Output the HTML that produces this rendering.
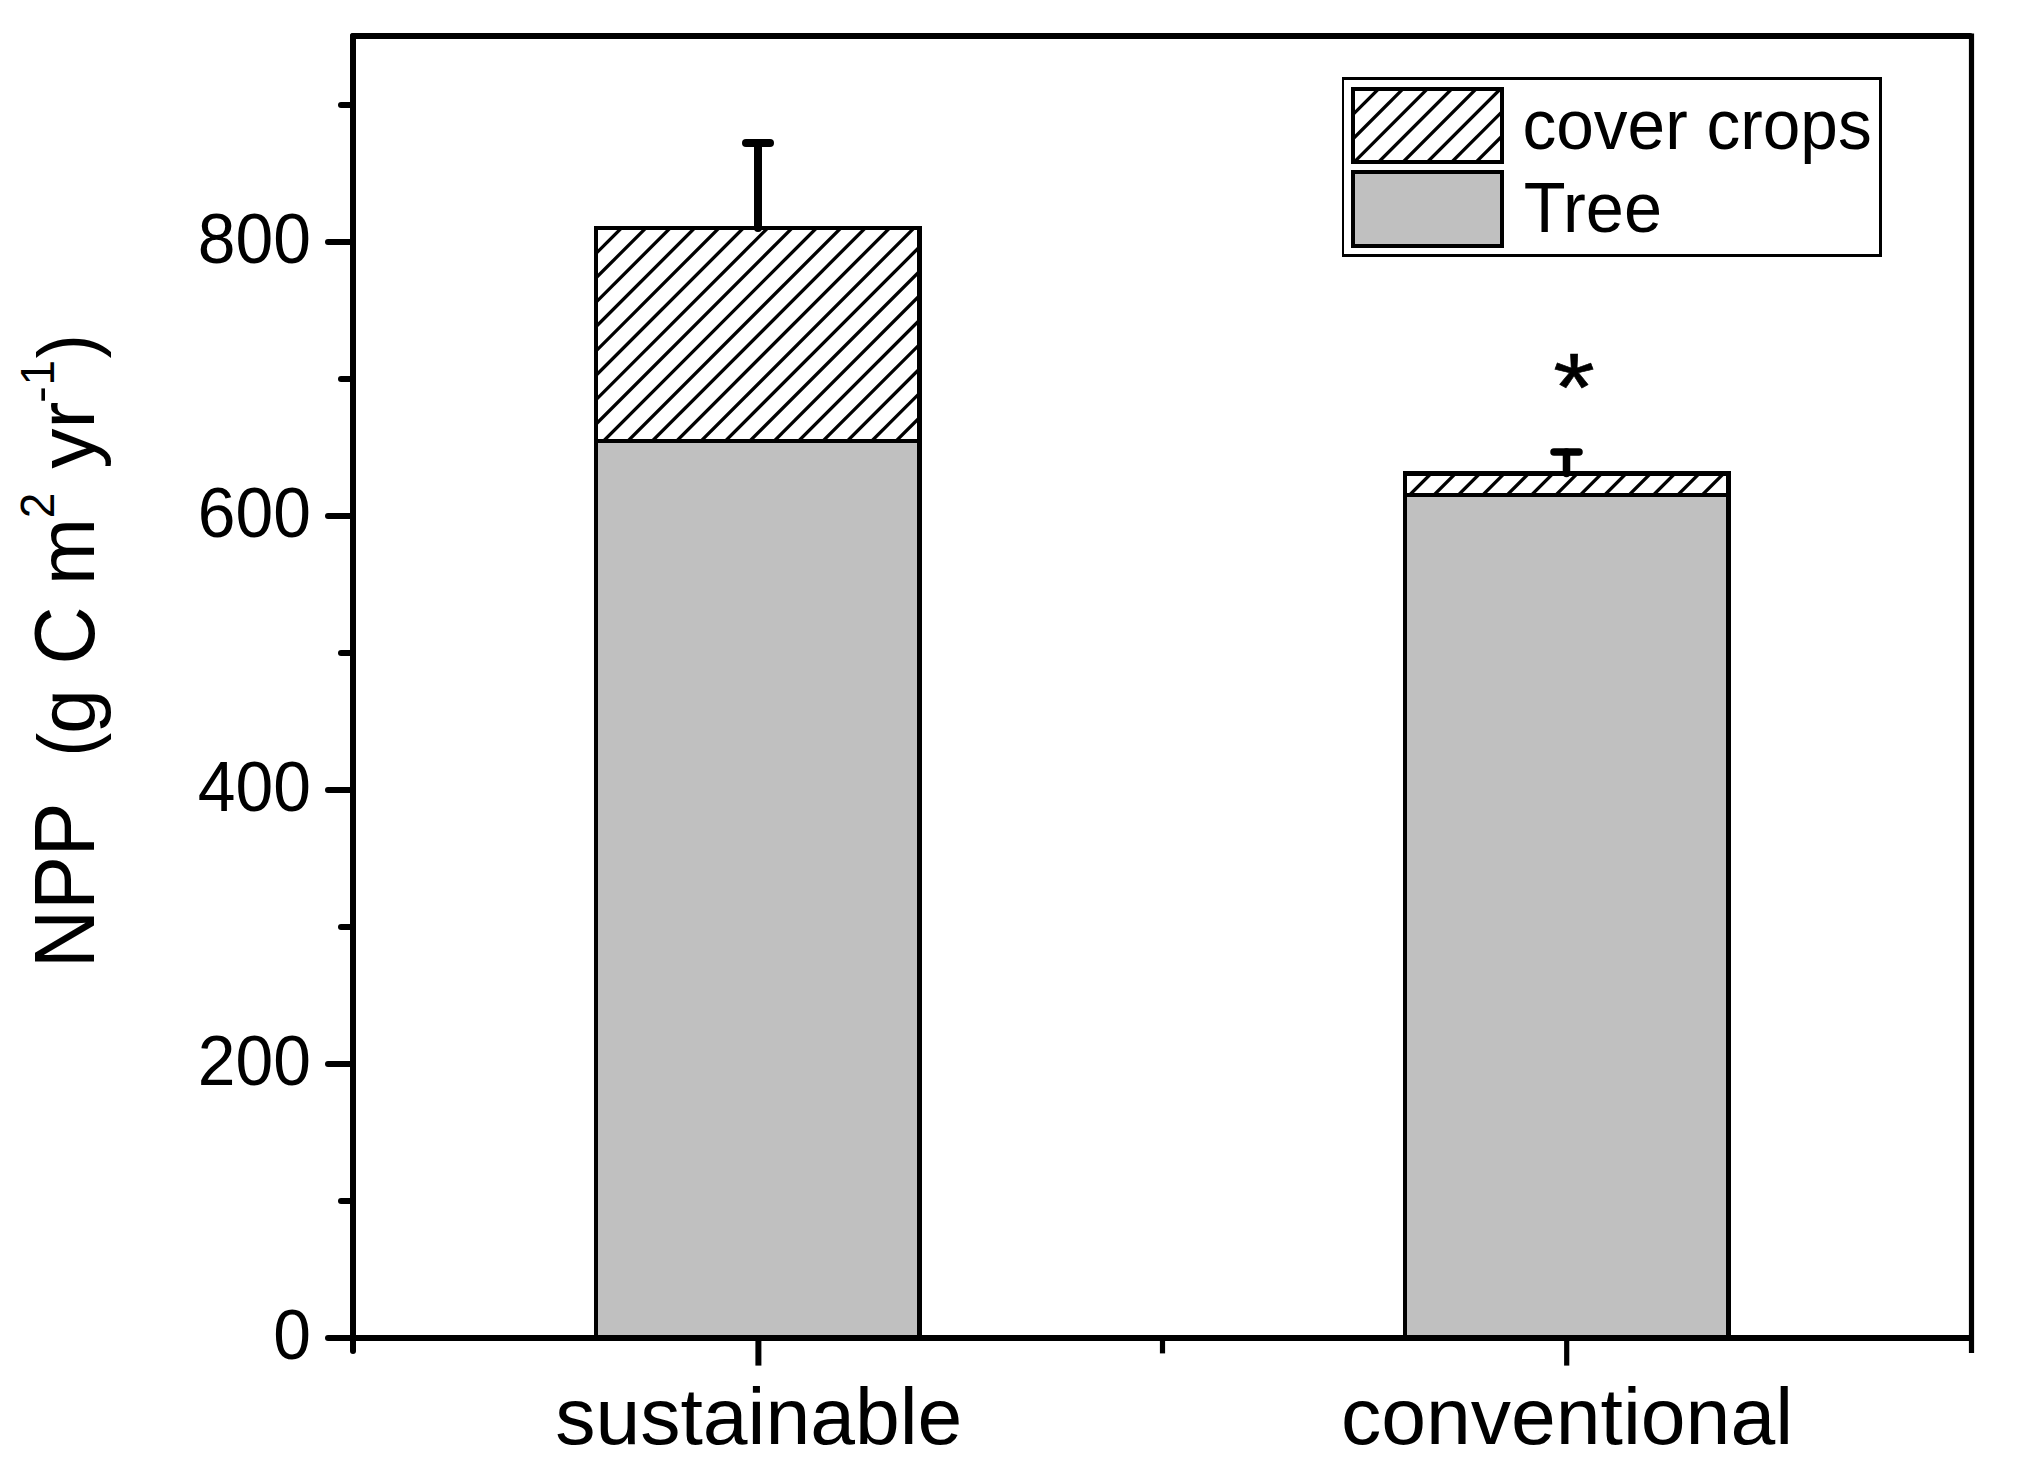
<!DOCTYPE html>
<html><head><meta charset="utf-8"><title>NPP chart</title>
<style>
html,body{margin:0;padding:0;background:#fff;}
svg{display:block;}
text{font-family:"Liberation Sans",sans-serif;fill:#000;white-space:pre;}
</style></head><body>
<svg width="2027" height="1469" viewBox="0 0 2027 1469">
<rect width="2027" height="1469" fill="#fff"/>
<defs>
<clipPath id="cb1"><rect x="596" y="228" width="323.5" height="213"/></clipPath>
<clipPath id="cb2"><rect x="1405.2" y="473.5" width="323.4" height="21.5"/></clipPath>
<clipPath id="cl1"><rect x="1353" y="89" width="149" height="73"/></clipPath>
</defs>

<g shape-rendering="crispEdges">
<rect x="596" y="441" width="323.5" height="897" fill="#c0c0c0"/>
<rect x="1405.2" y="495" width="323.4" height="843" fill="#c0c0c0"/>
</g>
<g clip-path="url(#cb1)" stroke="#000" stroke-width="3.3" fill="none">
<line x1="591.00" y1="185.36" x2="924.50" y2="-148.14"/>
<line x1="591.00" y1="209.74" x2="924.50" y2="-123.76"/>
<line x1="591.00" y1="234.12" x2="924.50" y2="-99.38"/>
<line x1="591.00" y1="258.50" x2="924.50" y2="-75.00"/>
<line x1="591.00" y1="282.88" x2="924.50" y2="-50.62"/>
<line x1="591.00" y1="307.26" x2="924.50" y2="-26.24"/>
<line x1="591.00" y1="331.64" x2="924.50" y2="-1.86"/>
<line x1="591.00" y1="356.02" x2="924.50" y2="22.52"/>
<line x1="591.00" y1="380.40" x2="924.50" y2="46.90"/>
<line x1="591.00" y1="404.78" x2="924.50" y2="71.28"/>
<line x1="591.00" y1="429.16" x2="924.50" y2="95.66"/>
<line x1="591.00" y1="453.54" x2="924.50" y2="120.04"/>
<line x1="591.00" y1="477.92" x2="924.50" y2="144.42"/>
<line x1="591.00" y1="502.30" x2="924.50" y2="168.80"/>
<line x1="591.00" y1="526.68" x2="924.50" y2="193.18"/>
<line x1="591.00" y1="551.06" x2="924.50" y2="217.56"/>
<line x1="591.00" y1="575.44" x2="924.50" y2="241.94"/>
<line x1="591.00" y1="599.82" x2="924.50" y2="266.32"/>
<line x1="591.00" y1="624.20" x2="924.50" y2="290.70"/>
<line x1="591.00" y1="648.58" x2="924.50" y2="315.08"/>
<line x1="591.00" y1="672.96" x2="924.50" y2="339.46"/>
<line x1="591.00" y1="697.34" x2="924.50" y2="363.84"/>
<line x1="591.00" y1="721.72" x2="924.50" y2="388.22"/>
<line x1="591.00" y1="746.10" x2="924.50" y2="412.60"/>
<line x1="591.00" y1="770.48" x2="924.50" y2="436.98"/>
<line x1="591.00" y1="794.86" x2="924.50" y2="461.36"/>
</g>
<g clip-path="url(#cb2)" stroke="#000" stroke-width="3.3" fill="none">
<line x1="1400.00" y1="431.46" x2="1733.60" y2="97.86"/>
<line x1="1400.00" y1="455.84" x2="1733.60" y2="122.24"/>
<line x1="1400.00" y1="480.22" x2="1733.60" y2="146.62"/>
<line x1="1400.00" y1="504.60" x2="1733.60" y2="171.00"/>
<line x1="1400.00" y1="528.98" x2="1733.60" y2="195.38"/>
<line x1="1400.00" y1="553.36" x2="1733.60" y2="219.76"/>
<line x1="1400.00" y1="577.74" x2="1733.60" y2="244.14"/>
<line x1="1400.00" y1="602.12" x2="1733.60" y2="268.52"/>
<line x1="1400.00" y1="626.50" x2="1733.60" y2="292.90"/>
<line x1="1400.00" y1="650.88" x2="1733.60" y2="317.28"/>
<line x1="1400.00" y1="675.26" x2="1733.60" y2="341.66"/>
<line x1="1400.00" y1="699.64" x2="1733.60" y2="366.04"/>
<line x1="1400.00" y1="724.02" x2="1733.60" y2="390.42"/>
<line x1="1400.00" y1="748.40" x2="1733.60" y2="414.80"/>
<line x1="1400.00" y1="772.78" x2="1733.60" y2="439.18"/>
<line x1="1400.00" y1="797.16" x2="1733.60" y2="463.56"/>
<line x1="1400.00" y1="821.54" x2="1733.60" y2="487.94"/>
<line x1="1400.00" y1="845.92" x2="1733.60" y2="512.32"/>
<line x1="1400.00" y1="870.30" x2="1733.60" y2="536.70"/>
</g>
<g shape-rendering="crispEdges" fill="none" stroke="#000">
<rect x="596" y="441" width="323.5" height="897" stroke-width="4"/>
<rect x="596" y="228" width="323.5" height="213" stroke-width="4"/>
<rect x="1405.2" y="495" width="323.4" height="843" stroke-width="4"/>
<rect x="1405.2" y="473" width="323.4" height="22" stroke-width="4"/>
<rect x="1403.2" y="471" width="327.4" height="5" fill="#000" stroke="none"/>
<rect x="1726" y="471" width="4.8" height="867" fill="#000" stroke="none"/>
<rect x="917" y="226" width="4.5" height="1112" fill="#000" stroke="none"/>
</g>
<g stroke="#000" stroke-width="8" stroke-linecap="round" fill="none">
<line x1="758" y1="143" x2="758" y2="228"/><line x1="746" y1="143" x2="770" y2="143"/>
</g><g stroke="#000" stroke-width="7.5" stroke-linecap="round" fill="none">
<line x1="1566.5" y1="452" x2="1566.5" y2="473.5"/><line x1="1554" y1="452" x2="1579" y2="452"/>
</g>
<g stroke="#000" stroke-width="6" stroke-linecap="round" fill="none">
<line x1="353" y1="36" x2="353" y2="1338"/>
<line x1="353" y1="36" x2="1970" y2="36"/>
<line x1="353" y1="1338" x2="1970" y2="1338"/>
</g>
<line x1="1971.5" y1="33.4" x2="1971.5" y2="1353" stroke="#000" stroke-width="5.2"/>
<g stroke="#000" stroke-width="6" stroke-linecap="round" fill="none">
<line x1="328" y1="242" x2="353" y2="242"/>
<line x1="328" y1="516" x2="353" y2="516"/>
<line x1="328" y1="790" x2="353" y2="790"/>
<line x1="328" y1="1064" x2="353" y2="1064"/>
<line x1="328" y1="1338" x2="353" y2="1338"/>
<line x1="341" y1="105" x2="353" y2="105"/>
<line x1="341" y1="379" x2="353" y2="379"/>
<line x1="341" y1="653" x2="353" y2="653"/>
<line x1="341" y1="927" x2="353" y2="927"/>
<line x1="341" y1="1201" x2="353" y2="1201"/>
<line x1="353" y1="1338" x2="353" y2="1351"/>
</g>
<g stroke="#000" fill="none">
<line x1="758.4" y1="1338" x2="758.4" y2="1365.6" stroke-width="6"/>
<line x1="1566.7" y1="1338" x2="1566.7" y2="1365.6" stroke-width="5.2"/>
<line x1="1162.5" y1="1338" x2="1162.5" y2="1353.4" stroke-width="5.2"/>
</g>
<text transform="translate(197.73,262.80) scale(1.0,1.04)" font-size="67.8">800</text>
<text transform="translate(197.73,536.80) scale(1.0,1.04)" font-size="67.8">600</text>
<text transform="translate(197.73,810.80) scale(1.0,1.04)" font-size="67.8">400</text>
<text transform="translate(197.73,1084.80) scale(1.0,1.04)" font-size="67.8">200</text>
<text transform="translate(273.14,1358.80) scale(1.0,1.04)" font-size="67.8">0</text>
<text x="555.14" y="1443.70" font-size="80.5">sustainable</text>
<text x="1341.02" y="1443.80" font-size="80.5">conventional</text>
<text transform="translate(94.2,1000) rotate(-90)" font-size="80.5"><tspan x="32.00" y="0.00" font-size="84.53" textLength="165.52" lengthAdjust="spacingAndGlyphs">NPP</tspan>  <tspan x="243.41" y="0.00" font-size="80.50" textLength="23.59" lengthAdjust="spacingAndGlyphs">(</tspan><tspan x="266.22" y="0.00">g</tspan> <tspan x="335.61" y="0.00" font-size="84.53" textLength="58.13" lengthAdjust="spacingAndGlyphs">C</tspan> <tspan x="414.95" y="0.00">m</tspan><tspan x="481.79" y="-39.80" font-size="48.76" textLength="25.58" lengthAdjust="spacingAndGlyphs">2</tspan> <tspan x="531.20" y="0.00">yr</tspan><tspan x="596.95" y="-38.10" font-size="46.00" textLength="16.85" lengthAdjust="spacingAndGlyphs">-</tspan><tspan x="614.50" y="-39.80" font-size="48.76" textLength="25.58" lengthAdjust="spacingAndGlyphs">1</tspan><tspan x="641.48" y="0.00" font-size="80.50" textLength="24.13" lengthAdjust="spacingAndGlyphs">)</tspan></text>
<text stroke="#000" stroke-width="0.7" transform="translate(1553.18,420.58) scale(1.0,0.907)" font-size="106.7">*</text>
<g shape-rendering="crispEdges">
<rect x="1342" y="77" width="540" height="180" fill="#000"/><rect x="1344" y="80" width="535" height="174" fill="#fff"/>
<rect x="1353" y="172" width="149" height="74" fill="#c0c0c0"/>
</g>
<g clip-path="url(#cl1)" stroke="#000" stroke-width="3.3" fill="none">
<line x1="1348.00" y1="46.36" x2="1507.00" y2="-112.64"/>
<line x1="1348.00" y1="70.74" x2="1507.00" y2="-88.26"/>
<line x1="1348.00" y1="95.12" x2="1507.00" y2="-63.88"/>
<line x1="1348.00" y1="119.50" x2="1507.00" y2="-39.50"/>
<line x1="1348.00" y1="143.88" x2="1507.00" y2="-15.12"/>
<line x1="1348.00" y1="168.26" x2="1507.00" y2="9.26"/>
<line x1="1348.00" y1="192.64" x2="1507.00" y2="33.64"/>
<line x1="1348.00" y1="217.02" x2="1507.00" y2="58.02"/>
<line x1="1348.00" y1="241.40" x2="1507.00" y2="82.40"/>
<line x1="1348.00" y1="265.78" x2="1507.00" y2="106.78"/>
<line x1="1348.00" y1="290.16" x2="1507.00" y2="131.16"/>
<line x1="1348.00" y1="314.54" x2="1507.00" y2="155.54"/>
<line x1="1348.00" y1="338.92" x2="1507.00" y2="179.92"/>
<line x1="1348.00" y1="363.30" x2="1507.00" y2="204.30"/>
</g>
<g shape-rendering="crispEdges" fill="none" stroke="#000" stroke-width="4">
<rect x="1353" y="89" width="149" height="73"/>
<rect x="1353" y="172" width="149" height="74"/>
</g>
<text transform="translate(1522.43,149.30) scale(1.0,1.045)" font-size="67.6">cover crops</text>
<text transform="translate(1523.76,232.00) scale(1.0,1.04)" font-size="68.5">Tree</text>
</svg></body></html>
